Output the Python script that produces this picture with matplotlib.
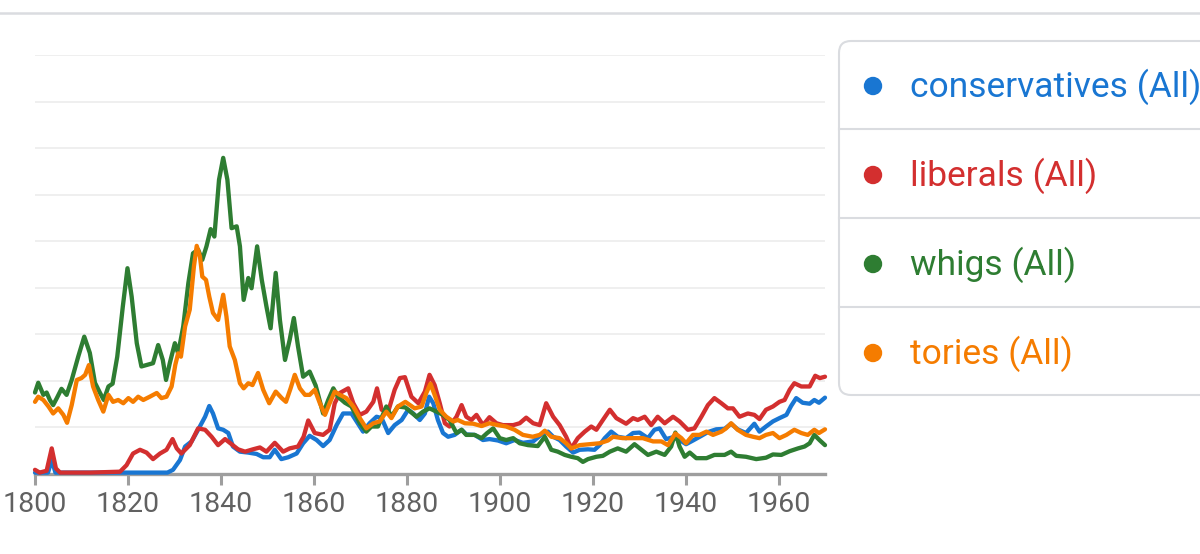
import matplotlib
matplotlib.use("Agg")
import matplotlib.pyplot as plt
from matplotlib.patches import FancyBboxPatch, Circle
from matplotlib.lines import Line2D

plt.rcParams['font.family'] = ['Roboto', 'DejaVu Sans']

# values, in units of one gridline step
conservatives = [(1800, 0.03), (1802.8, 0.03), (1803.6, 0.30), (1804.4, 0.03), (1828.5, 0.03), (1829.7, 0.09),
                 (1831.2, 0.30), (1832.3, 0.59), (1833.7, 0.70), (1835.1, 0.95), (1836.6, 1.23), (1837.5, 1.46),
                 (1838.3, 1.30), (1839.4, 0.98), (1840.5, 0.95), (1841.6, 0.88), (1842.6, 0.59), (1844.1, 0.48),
                 (1845.9, 0.46), (1847.7, 0.43), (1849.1, 0.36), (1850.5, 0.36), (1851.6, 0.52), (1853.0, 0.32),
                 (1854.5, 0.36), (1856.3, 0.44), (1857.7, 0.66), (1859.1, 0.82), (1860.6, 0.73), (1862.0, 0.60),
                 (1863.4, 0.73), (1864.9, 1.05), (1866.3, 1.30), (1868.1, 1.30), (1869.2, 1.13), (1870.6, 0.91),
                 (1872.0, 1.09), (1873.5, 1.23), (1874.6, 1.20), (1876.0, 0.88), (1877.4, 1.05), (1878.9, 1.16),
                 (1880.3, 1.38), (1881.4, 1.30), (1882.8, 1.16), (1883.9, 1.30), (1884.8, 1.66), (1885.7, 1.52),
                 (1886.7, 1.16), (1887.8, 0.88), (1888.9, 0.80), (1890.3, 0.84), (1891.8, 0.95), (1892.8, 0.85),
                 (1894.6, 0.84), (1896.4, 0.73), (1897.8, 0.75), (1899.6, 0.72), (1901.4, 0.66), (1903.2, 0.73),
                 (1905.0, 0.67), (1907.2, 0.70), (1908.9, 0.84), (1910.4, 0.91), (1911.5, 0.80), (1912.9, 0.73),
                 (1914.3, 0.59), (1915.8, 0.46), (1917.2, 0.52), (1919.0, 0.53), (1920.4, 0.52), (1921.5, 0.62),
                 (1922.6, 0.77), (1924.0, 0.91), (1925.4, 0.80), (1927.2, 0.77), (1928.7, 0.88), (1930.1, 0.89),
                 (1931.9, 0.77), (1933.3, 0.95), (1934.4, 0.98), (1935.8, 0.75), (1937.3, 0.79), (1938.7, 0.73),
                 (1940.1, 0.64), (1941.6, 0.72), (1943.4, 0.82), (1944.8, 0.90), (1946.6, 0.96), (1948.4, 0.97),
                 (1949.8, 1.08), (1951.2, 0.96), (1953.0, 0.88), (1954.8, 1.08), (1955.9, 0.91), (1957.3, 1.02),
                 (1958.8, 1.13), (1960.2, 1.20), (1961.7, 1.27), (1962.7, 1.46), (1963.8, 1.63), (1965.2, 1.53),
                 (1966.7, 1.51), (1967.7, 1.59), (1968.7, 1.53), (1970.0, 1.64)]

liberals = [(1800, 0.09), (1801.0, 0.03), (1802.5, 0.07), (1803.6, 0.55), (1804.5, 0.12), (1805.4, 0.03),
            (1812.0, 0.03), (1818.3, 0.05), (1819.7, 0.19), (1821.1, 0.44), (1822.6, 0.52), (1824.0, 0.46),
            (1825.4, 0.32), (1826.9, 0.44), (1828.3, 0.52), (1829.6, 0.75), (1830.5, 0.55), (1831.5, 0.44),
            (1833.3, 0.62), (1835.1, 0.98), (1836.6, 0.95), (1838.0, 0.80), (1839.4, 0.62), (1840.9, 0.75),
            (1842.3, 0.64), (1843.7, 0.53), (1845.2, 0.48), (1846.9, 0.53), (1848.4, 0.57), (1849.8, 0.48),
            (1851.6, 0.67), (1853.4, 0.48), (1854.8, 0.55), (1856.6, 0.59), (1857.8, 0.80), (1858.8, 1.15),
            (1860.2, 0.88), (1862.0, 0.84), (1863.4, 0.95), (1864.5, 1.52), (1865.6, 1.74), (1867.4, 1.84),
            (1868.5, 1.52), (1869.9, 1.27), (1871.3, 1.34), (1872.8, 1.55), (1873.6, 1.84), (1874.6, 1.38),
            (1876.0, 1.34), (1877.4, 1.81), (1878.5, 2.06), (1879.6, 2.08), (1881.0, 1.66), (1882.5, 1.52),
            (1883.9, 1.77), (1884.9, 2.13), (1886.0, 1.91), (1887.1, 1.52), (1888.2, 1.09), (1889.2, 1.02),
            (1890.7, 1.23), (1891.8, 1.48), (1892.8, 1.23), (1893.9, 1.16), (1895.0, 1.27), (1896.4, 1.05),
            (1897.8, 1.22), (1899.3, 1.09), (1900.7, 1.05), (1902.9, 1.05), (1904.3, 1.09), (1905.7, 1.21),
            (1907.2, 1.09), (1908.6, 1.05), (1910.0, 1.52), (1911.5, 1.23), (1912.9, 1.05), (1914.3, 0.80),
            (1915.4, 0.55), (1916.8, 0.77), (1918.3, 0.91), (1919.7, 1.02), (1920.8, 0.95), (1922.2, 1.16),
            (1923.7, 1.38), (1925.1, 1.20), (1927.2, 1.08), (1928.7, 1.20), (1929.7, 1.16), (1931.2, 1.23),
            (1932.6, 1.05), (1934.0, 1.23), (1935.5, 1.09), (1937.3, 1.23), (1938.7, 1.13), (1940.5, 0.95),
            (1941.9, 0.98), (1943.4, 1.23), (1944.8, 1.48), (1946.2, 1.63), (1947.7, 1.52), (1949.1, 1.41),
            (1950.2, 1.41), (1951.6, 1.23), (1953.4, 1.30), (1954.8, 1.27), (1955.9, 1.18), (1957.3, 1.38),
            (1958.8, 1.45), (1960.2, 1.55), (1961.3, 1.59), (1962.4, 1.81), (1963.4, 1.95), (1964.9, 1.88),
            (1966.7, 1.88), (1967.9, 2.11), (1968.9, 2.06), (1970.0, 2.09)]

whigs = [(1800, 1.75), (1800.7, 1.96), (1801.8, 1.70), (1802.5, 1.75), (1803.2, 1.59), (1803.9, 1.48),
         (1804.7, 1.63), (1805.7, 1.83), (1806.8, 1.70), (1807.9, 2.02), (1809.3, 2.52), (1810.6, 2.95),
         (1811.8, 2.60), (1812.9, 1.96), (1814.0, 1.74), (1814.8, 1.59), (1815.8, 1.88), (1816.7, 1.94),
         (1817.7, 2.52), (1818.9, 3.60), (1819.9, 4.42), (1820.8, 3.81), (1821.9, 2.81), (1822.9, 2.31),
         (1824.0, 2.34), (1825.4, 2.38), (1826.5, 2.77), (1827.5, 2.45), (1828.2, 2.02), (1829.0, 2.38),
         (1830.1, 2.81), (1830.8, 2.59), (1831.9, 3.17), (1833.0, 4.10), (1834.0, 4.74), (1835.1, 4.82),
         (1836.0, 4.60), (1836.9, 4.89), (1837.8, 5.26), (1838.6, 5.10), (1839.6, 6.32), (1840.5, 6.79),
         (1841.4, 6.32), (1842.3, 5.28), (1843.4, 5.32), (1844.1, 4.89), (1844.9, 3.74), (1845.9, 4.21),
         (1846.6, 3.99), (1847.8, 4.89), (1848.8, 4.17), (1849.8, 3.60), (1850.7, 3.13), (1851.8, 4.32),
         (1852.7, 3.31), (1853.8, 2.45), (1854.8, 2.88), (1855.7, 3.35), (1856.6, 2.74), (1857.7, 2.09),
         (1859.1, 2.20), (1860.4, 1.90), (1862.0, 1.30), (1863.1, 1.59), (1864.2, 1.84), (1865.2, 1.66),
         (1866.7, 1.53), (1868.1, 1.45), (1869.9, 1.09), (1871.3, 0.91), (1872.4, 1.02), (1873.8, 1.02),
         (1875.6, 1.45), (1876.7, 1.23), (1878.1, 1.45), (1879.7, 1.43), (1882.1, 1.23), (1883.5, 1.34),
         (1884.9, 1.41), (1886.4, 1.34), (1887.8, 1.27), (1889.2, 1.16), (1890.7, 0.88), (1891.8, 0.95),
         (1892.8, 0.84), (1894.6, 0.84), (1896.1, 0.77), (1897.3, 0.88), (1898.6, 0.98), (1900.0, 0.77),
         (1901.4, 0.73), (1902.9, 0.77), (1904.3, 0.66), (1906.1, 0.62), (1908.2, 0.60), (1909.7, 0.80),
         (1911.1, 0.52), (1912.5, 0.48), (1914.0, 0.41), (1915.4, 0.37), (1916.8, 0.34), (1917.9, 0.26),
         (1919.0, 0.32), (1920.8, 0.37), (1922.2, 0.39), (1923.7, 0.48), (1925.4, 0.55), (1927.2, 0.48),
         (1929.0, 0.64), (1930.5, 0.52), (1931.9, 0.41), (1933.7, 0.48), (1935.5, 0.41), (1936.9, 0.59),
         (1937.8, 0.89), (1938.7, 0.59), (1939.8, 0.37), (1940.9, 0.46), (1942.3, 0.34), (1944.5, 0.34),
         (1946.2, 0.41), (1948.4, 0.41), (1949.8, 0.48), (1950.9, 0.39), (1953.0, 0.37), (1955.2, 0.32),
         (1957.3, 0.35), (1958.8, 0.42), (1960.6, 0.41), (1962.4, 0.49), (1964.2, 0.55), (1965.6, 0.59),
         (1966.7, 0.66), (1967.7, 0.84), (1968.8, 0.73), (1970.0, 0.62)]

tories = [(1800, 1.55), (1800.7, 1.66), (1801.8, 1.59), (1802.9, 1.45), (1803.9, 1.30), (1805.0, 1.41),
          (1806.1, 1.27), (1806.9, 1.10), (1807.9, 1.48), (1809.0, 2.02), (1810.0, 2.06), (1810.8, 2.13),
          (1811.6, 2.34), (1812.5, 1.88), (1813.6, 1.59), (1814.7, 1.34), (1815.8, 1.70), (1816.8, 1.55),
          (1817.9, 1.59), (1819.0, 1.52), (1820.1, 1.63), (1821.1, 1.55), (1822.2, 1.66), (1823.3, 1.59),
          (1824.7, 1.66), (1826.2, 1.74), (1827.2, 1.63), (1828.3, 1.66), (1829.4, 1.88), (1830.2, 2.35),
          (1830.8, 2.59), (1831.4, 2.52), (1832.3, 3.17), (1833.3, 3.53), (1834.2, 4.46), (1834.8, 4.90),
          (1835.5, 4.67), (1836.0, 4.24), (1836.8, 4.17), (1837.5, 3.81), (1838.3, 3.46), (1839.4, 3.31),
          (1840.5, 3.85), (1841.2, 3.38), (1841.9, 2.74), (1843.0, 2.45), (1844.1, 1.95), (1844.9, 1.84),
          (1845.9, 1.95), (1846.8, 1.91), (1848.0, 2.17), (1849.1, 1.81), (1850.4, 1.52), (1851.8, 1.77),
          (1853.1, 1.63), (1854.0, 1.55), (1855.0, 1.84), (1855.9, 2.13), (1857.0, 1.84), (1858.1, 1.70),
          (1859.1, 1.70), (1860.2, 1.81), (1861.3, 1.52), (1862.4, 1.27), (1863.4, 1.52), (1864.5, 1.77),
          (1865.6, 1.70), (1867.0, 1.63), (1868.5, 1.45), (1869.9, 1.20), (1871.3, 0.98), (1872.8, 1.09),
          (1874.2, 1.13), (1875.6, 1.34), (1876.7, 1.20), (1878.1, 1.45), (1879.7, 1.55), (1881.7, 1.41),
          (1883.2, 1.45), (1884.2, 1.74), (1885.1, 1.94), (1886.0, 1.70), (1887.1, 1.38), (1888.5, 1.23),
          (1890.0, 1.13), (1891.0, 1.16), (1892.5, 1.09), (1894.3, 1.08), (1896.1, 1.03), (1897.8, 1.09),
          (1899.6, 1.05), (1901.4, 1.02), (1903.2, 0.95), (1905.0, 0.84), (1907.1, 0.80), (1908.6, 0.84),
          (1909.7, 0.93), (1911.1, 0.80), (1912.9, 0.77), (1914.3, 0.66), (1915.4, 0.55), (1917.2, 0.62),
          (1919.4, 0.64), (1921.5, 0.66), (1923.3, 0.72), (1924.4, 0.80), (1926.5, 0.77), (1928.7, 0.77),
          (1930.8, 0.77), (1933.0, 0.70), (1934.8, 0.70), (1936.2, 0.62), (1937.8, 0.87), (1939.1, 0.77),
          (1940.1, 0.66), (1941.6, 0.84), (1943.0, 0.84), (1944.5, 0.91), (1945.9, 0.84), (1947.7, 0.91),
          (1948.7, 0.98), (1949.8, 1.09), (1951.2, 0.95), (1953.0, 0.84), (1954.5, 0.80), (1955.9, 0.77),
          (1957.3, 0.84), (1958.8, 0.88), (1960.2, 0.77), (1961.7, 0.84), (1963.4, 0.95), (1964.9, 0.88),
          (1966.3, 0.84), (1967.7, 0.95), (1968.7, 0.88), (1970.0, 0.96)]

labels = ["conservatives (All)", "liberals (All)", "whigs (All)", "tories (All)"]
colors = ["#1976d2", "#d32f2f", "#2e7d32", "#f57c00"]
xticks = list(range(1800, 1961, 20))

fig = plt.figure(figsize=(12, 5.54), dpi=100)
W, H = 1200, 554

ax = fig.add_axes([35 / W, 80 / H, 790 / W, 419 / H])
for series, c in zip([conservatives, liberals, whigs, tories], colors):
    xs = [p[0] for p in series]
    ys = [p[1] for p in series]
    ax.plot(xs, ys, color=c, lw=3.1, solid_joinstyle='round', solid_capstyle='round', clip_on=False, zorder=3)

ax.set_xlim(1800, 1970)
ax.set_ylim(0, 9)
ax.set_yticks(range(1, 10))
ax.yaxis.grid(True, color='#eeeeee', lw=1.3)
ax.tick_params(axis='y', length=0, labelleft=False)
ax.set_xticks(xticks)
ax.tick_params(axis='x', length=8, width=2.2, color='#9e9e9e', labelsize=20.5, labelcolor='#616161', pad=4)
for s in ['top', 'right', 'left']:
    ax.spines[s].set_visible(False)
ax.spines['bottom'].set_color('#9e9e9e')
ax.spines['bottom'].set_linewidth(2.4)
ax.set_axisbelow(True)

# overlay in pixel coordinates for the frame line and legend box
ov = fig.add_axes([0, 0, 1, 1], zorder=5)
ov.set_xlim(0, W)
ov.set_ylim(H, 0)
ov.axis('off')
ov.patch.set_alpha(0)
ov.add_line(Line2D([0, W], [13, 13], color='#dadce0', lw=1.8))

box = FancyBboxPatch((839, 41), 420, 354, boxstyle='round,pad=0,rounding_size=12',
                     facecolor='white', edgecolor='#dadce0', lw=1.5)
ov.add_patch(box)
for ysep in [129, 218, 307]:
    ov.add_line(Line2D([839, W], [ysep, ysep], color='#dadce0', lw=1.5))
for i, (lab, c) in enumerate(zip(labels, colors)):
    yc = 86 + i * 89
    ov.add_patch(Circle((873, yc), 8.5, color=c))
    ov.text(910, yc + 1, lab, color=c, fontsize=25.5, va='center', ha='left')

fig.savefig('out.png', dpi=100)
